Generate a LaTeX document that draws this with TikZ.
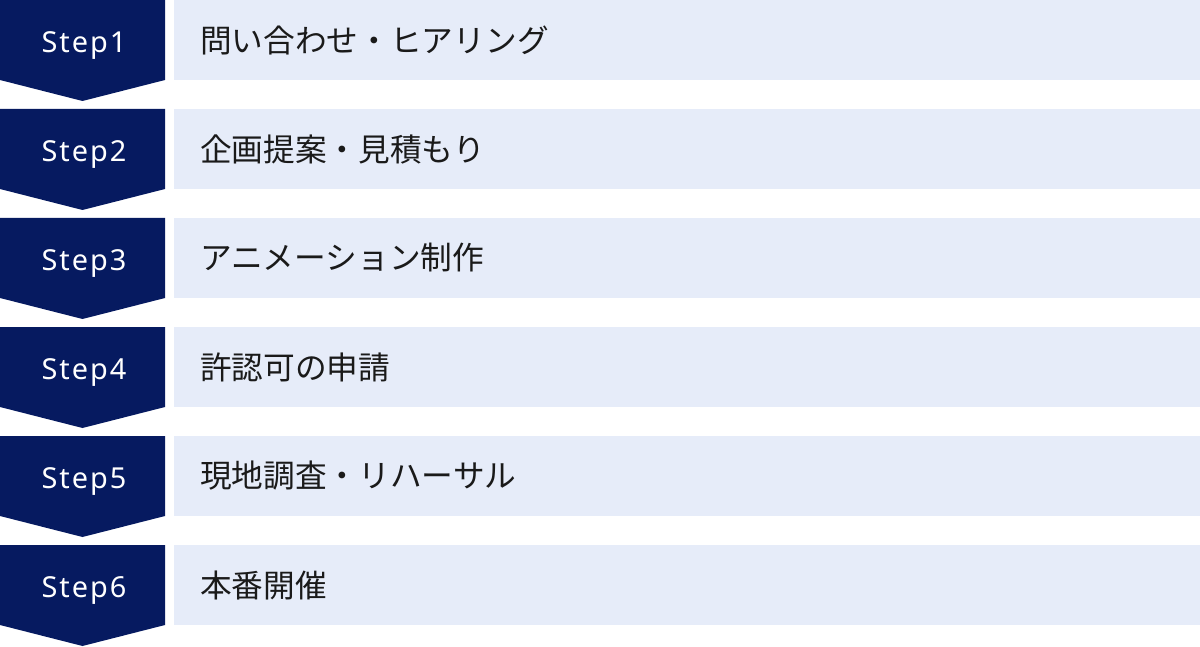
\documentclass[tikz,border=0pt]{standalone}
\usepackage{fontspec}
\setmainfont{Noto Sans}
\newfontfamily\cjk{Noto Sans CJK JP}
\newfontfamily\stepfont[LetterSpace=7]{Noto Sans}
\definecolor{stepnavy}{HTML}{061A60}
\definecolor{barblue}{HTML}{E6ECF9}
\definecolor{taskink}{HTML}{1A1A1A}

\begin{document}
\begin{tikzpicture}[x=1bp,y=-1bp,
  steptext/.style={text=white,inner sep=0pt,anchor=base,font=\stepfont\fontsize{29}{34}\selectfont},
  tasktext/.style={text=taskink,inner sep=0pt,anchor=west,font=\cjk\fontsize{31.8}{36}\selectfont}]
\useasboundingbox (0,0) rectangle (1200,647);
%%
\foreach \i/\task in {1/問い合わせ・ヒアリング,2/企画提案・見積もり,3/アニメーション制作,4/許認可の申請,5/現地調査・リハーサル,6/本番開催}{
  \pgfmathsetmacro\rowy{(\i-1)*109}
  \fill[stepnavy] (0,\rowy) -- (165,\rowy) -- (165,\rowy+80) -- (82.5,\rowy+101) -- (0,\rowy+80) -- cycle;
  \fill[barblue] (174,\rowy) rectangle (1200,\rowy+80);
  \node[steptext] (step_\i) at (84,\rowy+52.3) {Step\i};
  \node[tasktext] (task_\i) at (200,\rowy+40) {\task};
}
%
\end{tikzpicture}
\end{document}
